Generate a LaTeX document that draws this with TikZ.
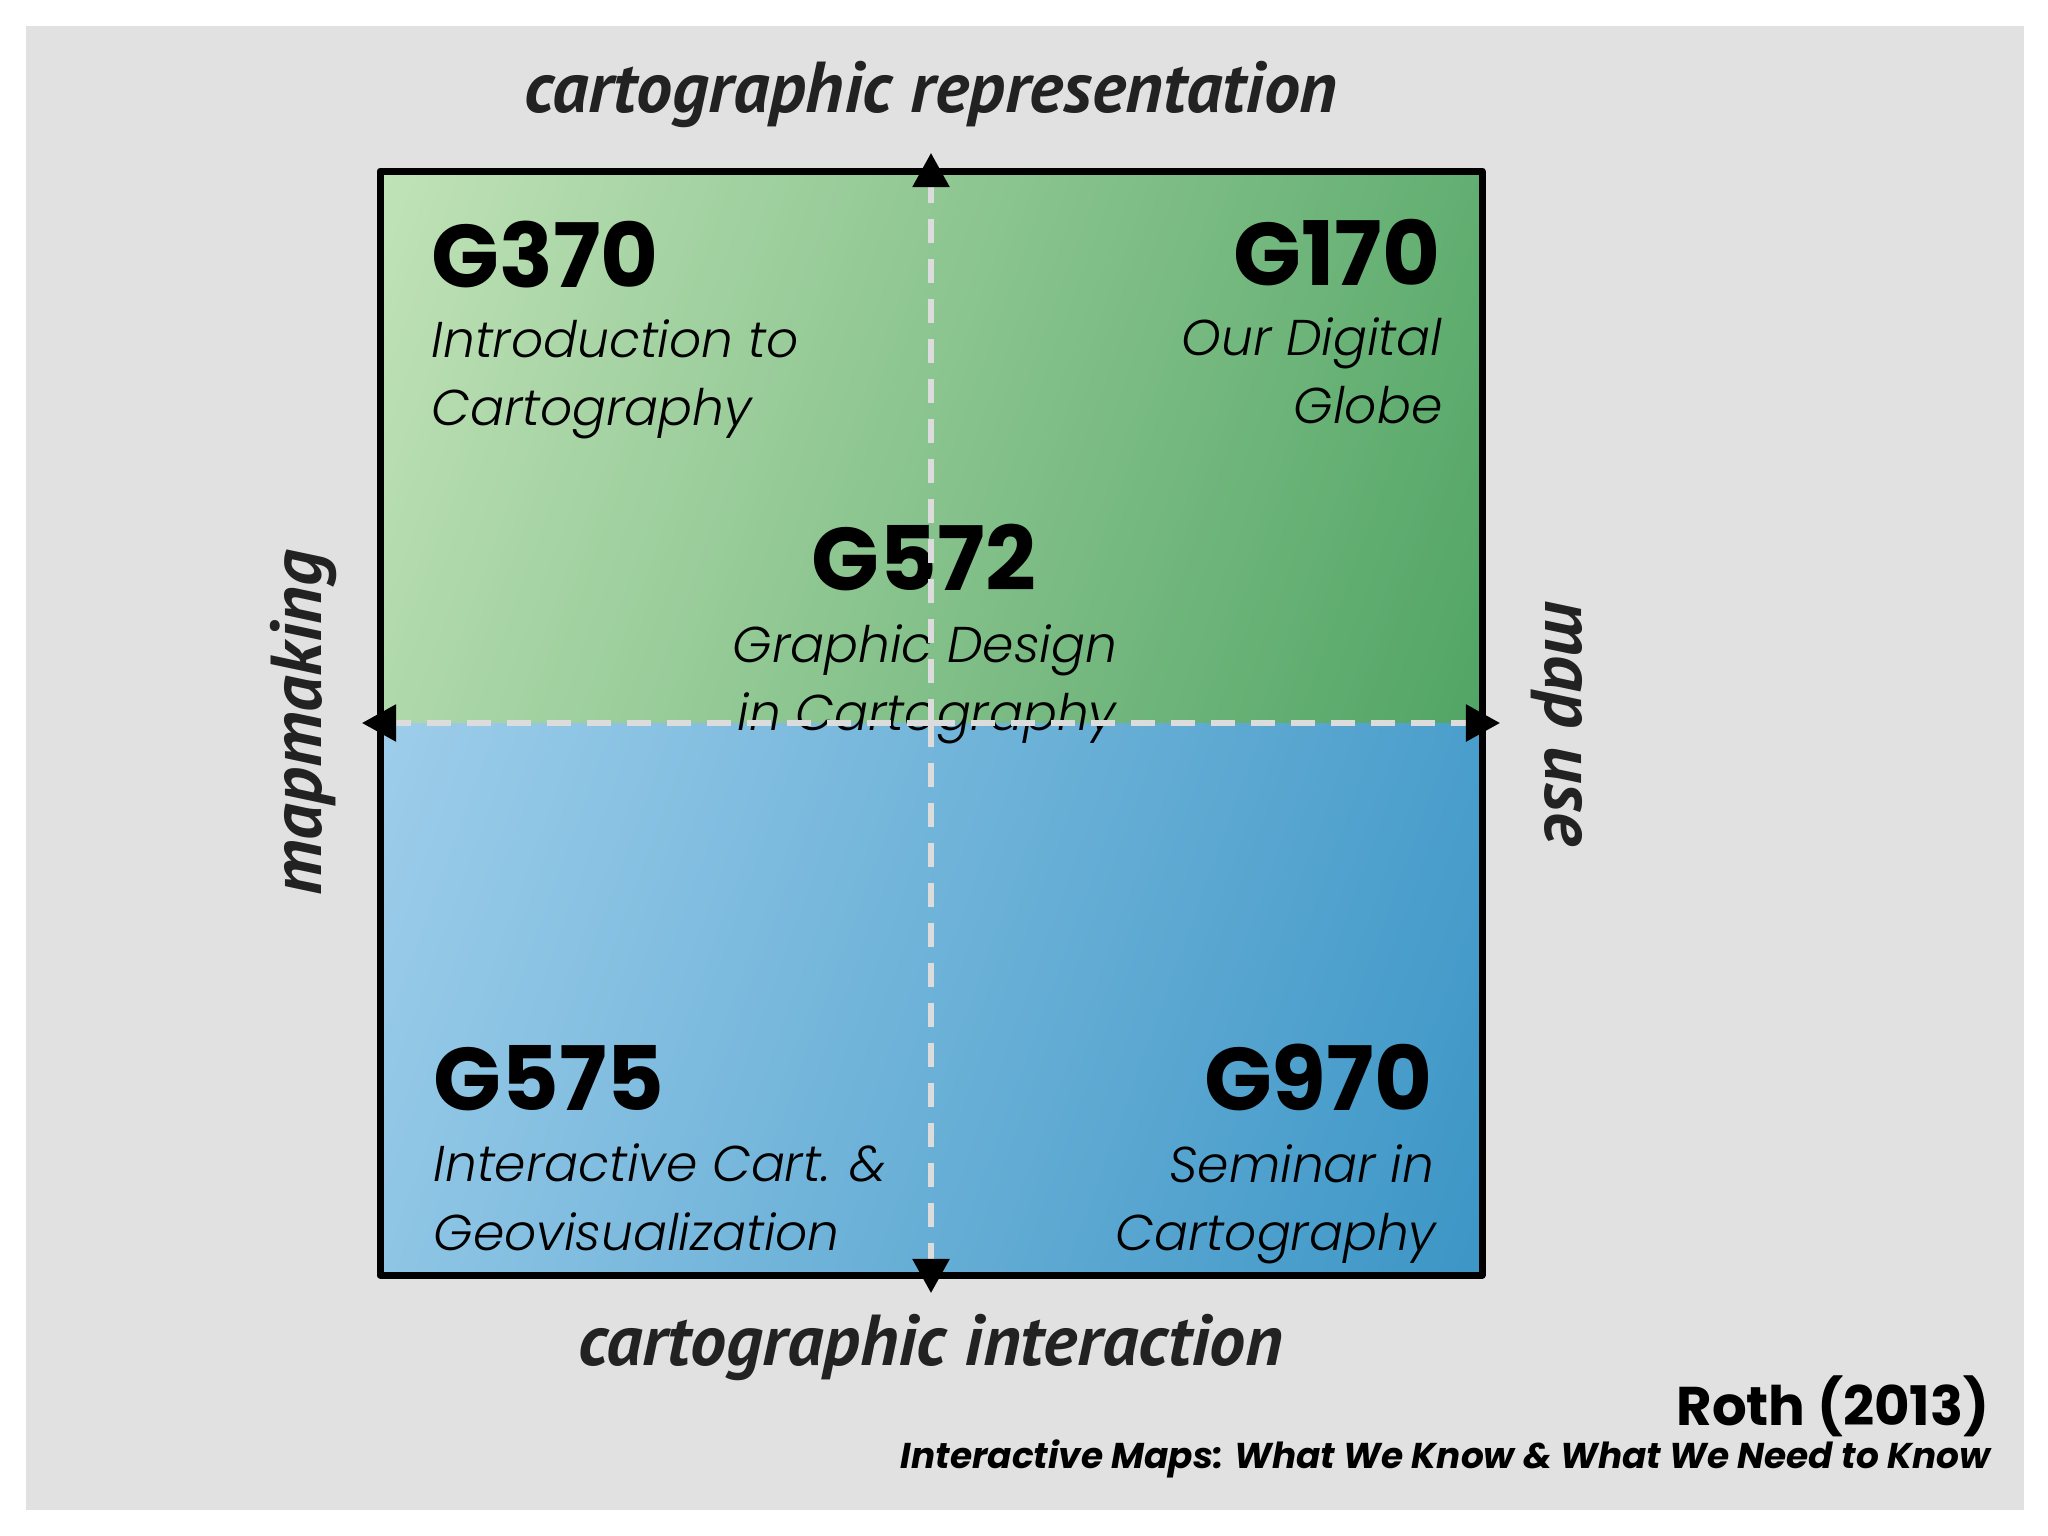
\documentclass[tikz,border=0pt]{standalone}
\usepackage{fontspec}
\usetikzlibrary{arrows.meta, positioning}
\newfontfamily\codefont{Poppins Bold}
\newfontfamily\titlefont{Poppins Light Italic}
\newfontfamily\axisfont{PT Sans Bold Italic}
\newfontfamily\citefont{Poppins Bold Italic}
\definecolor{bggray}{HTML}{E1E1E2}
\definecolor{dashgray}{HTML}{DCDCDC}
\definecolor{axisgray}{HTML}{222222}
\definecolor{greenlight}{HTML}{C6E5BB}
\definecolor{greendark}{HTML}{4CA261}
\definecolor{bluelight}{HTML}{A2D0EC}
\definecolor{bluedark}{HTML}{3793C4}
\pgfdeclareverticalshading{greenfade}{100bp}{color(0bp)=(greendark); color(15bp)=(greendark); color(85bp)=(greenlight); color(100bp)=(greenlight)}
\pgfdeclareverticalshading{bluefade}{100bp}{color(0bp)=(bluedark); color(15bp)=(bluedark); color(85bp)=(bluelight); color(100bp)=(bluelight)}

\begin{document}
\begin{tikzpicture}[x=0.01cm, y=-0.01cm]

  \tikzstyle{code} = [inner sep=0pt, font=\codefont\fontsize{25.3pt}{25.3pt}\selectfont];
  \tikzstyle{course} = [inner sep=0pt, font=\titlefont\fontsize{14.3pt}{14.3pt}\selectfont];
  \tikzstyle{axis} = [inner sep=0pt, text=axisgray, font=\axisfont\fontsize{20.5pt}{20.5pt}\selectfont];
  \tikzstyle{divider} = [draw=dashgray, line width=0.055cm, dash pattern=on 0.24cm off 0.16cm,
    -{Triangle[length=0.34cm, width=0.36cm, black]}];

  \useasboundingbox (0,0) rectangle (2048,1536);
  \fill[white] (0,0) rectangle (2048,1536);
  \fill[bggray] (26,26) rectangle (2024,1510);

  % quadrant fills
  \shade[shading=greenfade, shading angle=70] (380,171) rectangle (1482,723);
  \shade[shading=bluefade, shading angle=70] (380,723) rectangle (1482,1275);
  \draw[line width=0.07cm, line join=round] (380,171) rectangle (1482,1275);

  % courses
  \node[code, anchor=base west] (g370) at (431,287) {G370};
  \node[course, anchor=base west] (g370a) at (431,357) {Introduction to};
  \node[course, anchor=base west] (g370b) at (431,425) {Cartography};

  \node[code, anchor=base east] (g170) at (1441,285) {G170};
  \node[course, anchor=base east] (g170a) at (1443,355) {Our Digital};
  \node[course, anchor=base east] (g170b) at (1443,423) {Globe};

  \node[code, anchor=base] (g572) at (924,590) {G572};
  \node[course, anchor=base] (g572a) at (925,662) {Graphic Design};
  \node[course, anchor=base] (g572b) at (927,730) {in Cartography};

  \node[code, anchor=base west] (g575) at (433,1110) {G575};
  \node[course, anchor=base west] (g575a) at (433,1181) {Interactive Cart. \&};
  \node[course, anchor=base west] (g575b) at (433,1250) {Geovisualization};

  \node[code, anchor=base east] (g970) at (1433,1110) {G970};
  \node[course, anchor=base east] (g970a) at (1435,1182) {Seminar in};
  \node[course, anchor=base east] (g970b) at (1437,1250) {Cartography};

  % axes
  \coordinate (center) at (931,723);
  \coordinate (up) at (931,153);
  \coordinate (down) at (931,1293);
  \coordinate (west) at (362,723);
  \coordinate (east) at (1500,723);
  \draw[divider] (center) -- (up);
  \draw[divider] (center) -- (down);
  \draw[divider] (center) -- (west);
  \draw[divider] (center) -- (east);

  \node[axis, anchor=base] (repr) at (931,112) {cartographic representation};
  \node[axis, anchor=base] (inter) at (931,1365) {cartographic interaction};
  \node[axis, anchor=base, rotate=90] (making) at (321,723) {mapmaking};
  \node[axis, anchor=base, rotate=-90] (use) at (1545,723) {map use};

  % citation
  \node[inner sep=0pt, anchor=base east, font=\codefont\fontsize{15.5pt}{15.5pt}\selectfont] (roth) at (1990,1425) {Roth (2013)};
  \node[inner sep=0pt, anchor=base east, font=\citefont\fontsize{10.2pt}{10.2pt}\selectfont] (paper) at (1991,1468) {Interactive Maps: What We Know \& What We Need to Know};

\end{tikzpicture}
\end{document}
